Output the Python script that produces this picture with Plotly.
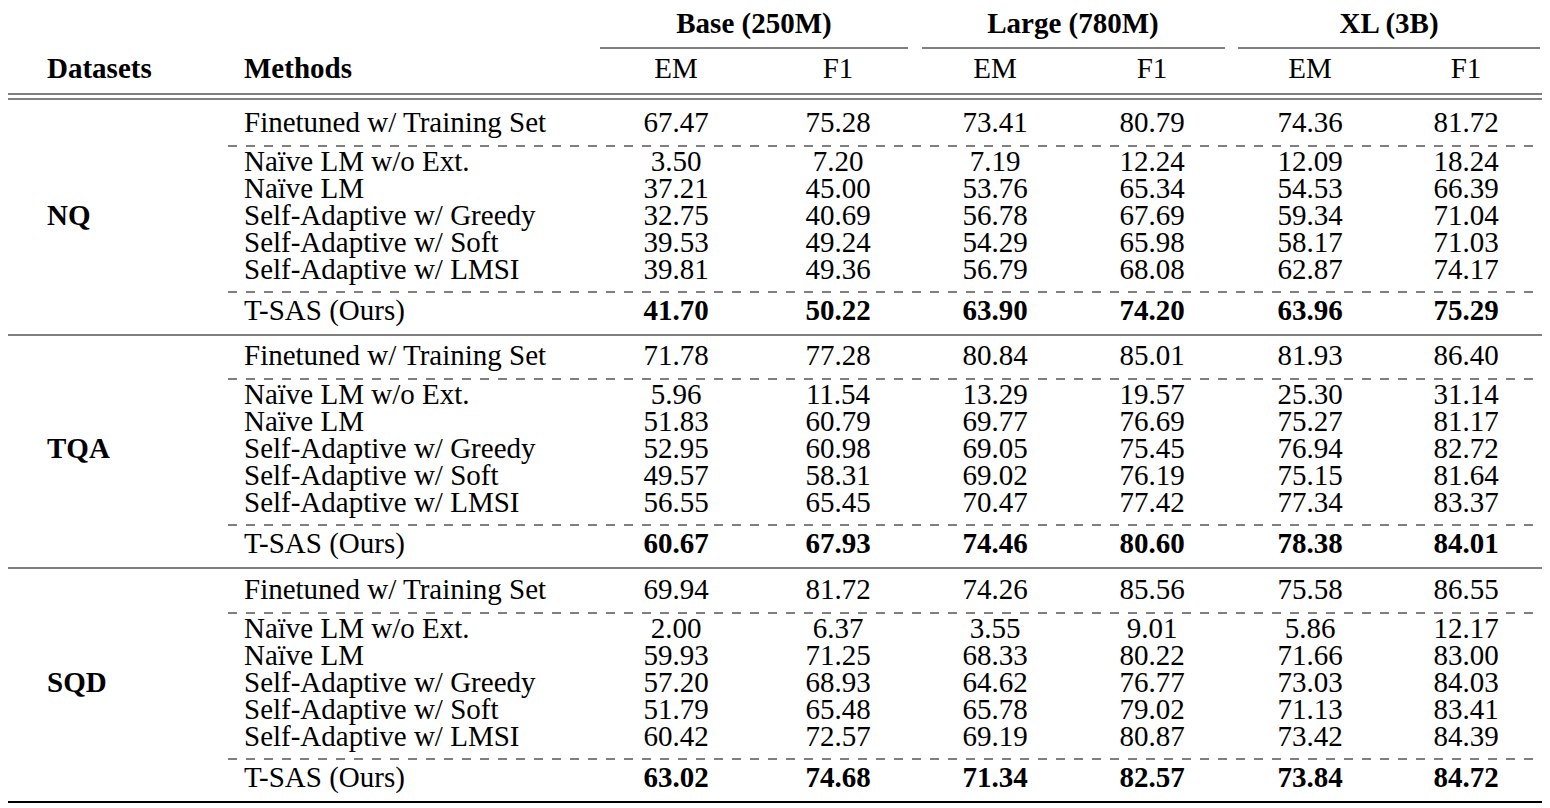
import plotly.graph_objects as go

datasets = ["NQ", "TQA", "SQD"]
methods = ["Finetuned w/ Training Set", "Naïve LM w/o Ext.", "Naïve LM",
           "Self-Adaptive w/ Greedy", "Self-Adaptive w/ Soft",
           "Self-Adaptive w/ LMSI", "T-SAS (Ours)"]
groups = ["Base (250M)", "Large (780M)", "XL (3B)"]
metrics = ["EM", "F1"]
values = {
    "NQ": [[67.47, 75.28, 73.41, 80.79, 74.36, 81.72],
           [3.50, 7.20, 7.19, 12.24, 12.09, 18.24],
           [37.21, 45.00, 53.76, 65.34, 54.53, 66.39],
           [32.75, 40.69, 56.78, 67.69, 59.34, 71.04],
           [39.53, 49.24, 54.29, 65.98, 58.17, 71.03],
           [39.81, 49.36, 56.79, 68.08, 62.87, 74.17],
           [41.70, 50.22, 63.90, 74.20, 63.96, 75.29]],
    "TQA": [[71.78, 77.28, 80.84, 85.01, 81.93, 86.40],
            [5.96, 11.54, 13.29, 19.57, 25.30, 31.14],
            [51.83, 60.79, 69.77, 76.69, 75.27, 81.17],
            [52.95, 60.98, 69.05, 75.45, 76.94, 82.72],
            [49.57, 58.31, 69.02, 76.19, 75.15, 81.64],
            [56.55, 65.45, 70.47, 77.42, 77.34, 83.37],
            [60.67, 67.93, 74.46, 80.60, 78.38, 84.01]],
    "SQD": [[69.94, 81.72, 74.26, 85.56, 75.58, 86.55],
            [2.00, 6.37, 3.55, 9.01, 5.86, 12.17],
            [59.93, 71.25, 68.33, 80.22, 71.66, 83.00],
            [57.20, 68.93, 64.62, 76.77, 73.03, 84.03],
            [51.79, 65.48, 65.78, 79.02, 71.13, 83.41],
            [60.42, 72.57, 69.19, 80.87, 73.42, 84.39],
            [63.02, 74.68, 71.34, 82.57, 73.84, 84.72]],
}

FONT = "Liberation Serif"
FS = 29
col_x = [676, 838, 995, 1152, 1310, 1466]
grp_x = [754, 1073, 1389]
grp_span = [(600, 908), (922, 1225), (1238, 1540)]
g0 = [124, 357, 591]

def row_y(g, i):
    if i == 0:
        return g0[g]
    if i == 6:
        return g0[g] + 188
    return g0[g] + 39 + 27 * (i - 1)

fig = go.Figure()
tx, ty, tt, tp = [], [], [], []
def add(x, y, t, pos="middle center"):
    tx.append(x); ty.append(y); tt.append(t); tp.append(pos)

add(47, 70, "<b>Datasets</b>", "middle right")
add(244, 70, "<b>Methods</b>", "middle right")
for j, g in enumerate(groups):
    add(grp_x[j], 25, f"<b>{g}</b>")
for j in range(6):
    add(col_x[j], 70, metrics[j % 2])

shapes = []
def line(x0, x1, y, w=1.2, dash=None):
    shapes.append(dict(type="line", xref="x", yref="y", x0=x0, x1=x1, y0=y, y1=y,
                       line=dict(color="black", width=w, dash=dash)))

line(0, 1548, 2, 2)
for a, b in grp_span:
    line(a, b, 47, 1)
line(0, 1548, 93, 1.2)
line(0, 1548, 98, 1.2)

for g, d in enumerate(datasets):
    add(47, row_y(g, 3), f"<b>{d}</b>", "middle right")
    for i, m in enumerate(methods):
        y = row_y(g, i)
        add(244, y, m, "middle right")
        for j, v in enumerate(values[d][i]):
            s = f"{v:.2f}"
            add(col_x[j], y, f"<b>{s}</b>" if i == 6 else s)
    line(228, 1548, g0[g] + 21, 1, "dash")
    line(228, 1548, g0[g] + 167, 1, "dash")
    line(0, 1548, g0[g] + 210, 2 if g == 2 else 1.2)

fig.add_trace(go.Scatter(x=tx, y=ty, text=tt, mode="text", textposition=tp,
                         textfont=dict(family=FONT, size=FS, color="black"),
                         hoverinfo="skip", showlegend=False, cliponaxis=False))
fig.update_layout(width=1550, height=808, margin=dict(l=0, r=0, t=0, b=0),
                  paper_bgcolor="white", plot_bgcolor="white", shapes=shapes,
                  xaxis=dict(range=[8, 1558], visible=False, fixedrange=True),
                  yaxis=dict(range=[815, 7], visible=False, fixedrange=True))
fig.write_html("out.html")
